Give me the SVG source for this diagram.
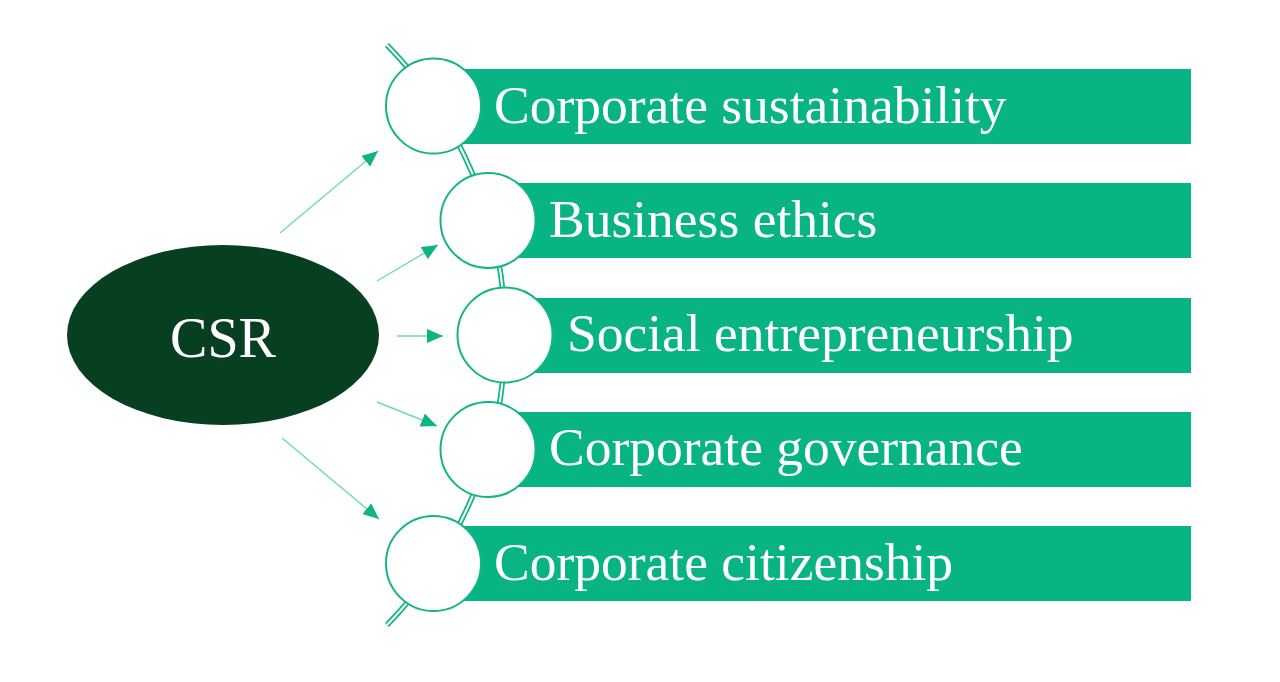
<svg xmlns="http://www.w3.org/2000/svg" width="1280" height="682" viewBox="0 0 1280 682">
<style>
.bar{fill:#08b384;}
.ring{fill:#ffffff;stroke:#14b585;stroke-width:2;}
.lbl{font-family:"Liberation Serif","Times New Roman",serif;font-size:53.5px;fill:#ffffff;}
.arr{stroke:#72d8b4;stroke-width:1.4;fill:none;marker-end:url(#ah);}
</style>
<defs>
<marker id="ah" markerUnits="userSpaceOnUse" markerWidth="18" markerHeight="14" refX="16" refY="7" orient="auto">
<path d="M0,0 L16,7 L0,14 Z" fill="#10b383"/>
</marker>
</defs>
<rect width="1280" height="682" fill="#ffffff"/>
<g id="spine">
<path d="M387,45 A415,415 0 0 1 387,625" fill="none" stroke="#14b585" stroke-width="5.5"/>
<path d="M387,45 A415,415 0 0 1 387,625" fill="none" stroke="#ffffff" stroke-width="2"/>
</g>
<g id="csr">
<ellipse cx="223" cy="335" rx="156" ry="90" fill="#073f21"/>
<text x="223" y="357" text-anchor="middle" font-family="'Liberation Serif','Times New Roman',serif" font-size="56" fill="#ffffff">CSR</text>
</g>
<g id="connectors">
<line class="arr" x1="280" y1="233" x2="378" y2="151"/>
<line class="arr" x1="377" y1="281" x2="438" y2="245"/>
<line class="arr" x1="397" y1="336" x2="443" y2="336"/>
<line class="arr" x1="377" y1="402" x2="437" y2="426"/>
<line class="arr" x1="282" y1="438" x2="379" y2="519"/>
</g>
<g id="item1">
<rect class="bar" x="433" y="69" width="758" height="75"/>
<circle class="ring" cx="433.5" cy="106" r="47.5"/>
<text class="lbl" x="494" y="123">Corporate sustainability</text>
</g>
<g id="item2">
<rect class="bar" x="488" y="183" width="703" height="75"/>
<circle class="ring" cx="488" cy="220.5" r="47.5"/>
<text class="lbl" x="549" y="237">Business ethics</text>
</g>
<g id="item3">
<rect class="bar" x="505" y="298" width="686" height="75"/>
<circle class="ring" cx="505" cy="335" r="47.5"/>
<text class="lbl" x="567" y="351">Social entrepreneurship</text>
</g>
<g id="item4">
<rect class="bar" x="488" y="412" width="703" height="75"/>
<circle class="ring" cx="488" cy="449.5" r="47.5"/>
<text class="lbl" x="549" y="465">Corporate governance</text>
</g>
<g id="item5">
<rect class="bar" x="433" y="526" width="758" height="75"/>
<circle class="ring" cx="433.5" cy="563.5" r="47.5"/>
<text class="lbl" x="494" y="580">Corporate citizenship</text>
</g>
</svg>
